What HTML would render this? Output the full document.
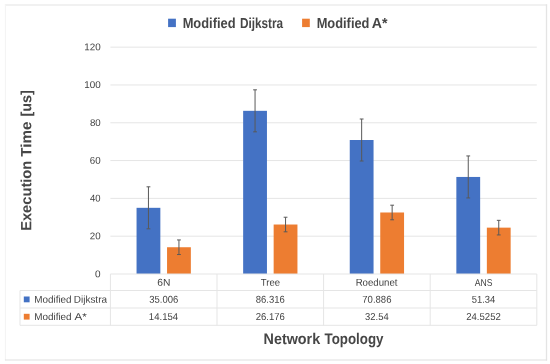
<!DOCTYPE html>
<html><head><meta charset="utf-8"><title>Chart</title>
<style>
html,body{margin:0;padding:0;background:#fff;}
body{width:550px;height:364px;overflow:hidden;}
svg{display:block;}
text{font-family:"Liberation Sans",sans-serif;text-rendering:geometricPrecision;}
.t{fill:#424242;}
.b{font-weight:bold;fill:#464646;}
</style></head><body>
<svg width="550" height="364" viewBox="0 0 550 364">
<rect x="0" y="0" width="550" height="364" fill="#fff"/>
<path d="M4.9 4.95H547.1" stroke="#EDEDED" stroke-width="1.4" fill="none"/>
<path d="M5.4 4.3V360.5" stroke="#F4F4F4" stroke-width="1.1" fill="none"/>
<path d="M546.5 4.3V360.5" stroke="#E4E4E4" stroke-width="1.3" fill="none"/>
<path d="M4.9 360.0H547.1" stroke="#E0E0E0" stroke-width="1.2" fill="none"/>

<line x1="110.4" x2="536.8" y1="236.19" y2="236.19" stroke="#E5E5E5" stroke-width="1"/>
<line x1="110.4" x2="536.8" y1="198.38" y2="198.38" stroke="#E5E5E5" stroke-width="1"/>
<line x1="110.4" x2="536.8" y1="160.57" y2="160.57" stroke="#E5E5E5" stroke-width="1"/>
<line x1="110.4" x2="536.8" y1="122.77" y2="122.77" stroke="#E5E5E5" stroke-width="1"/>
<line x1="110.4" x2="536.8" y1="84.96" y2="84.96" stroke="#E5E5E5" stroke-width="1"/>
<line x1="110.4" x2="536.8" y1="47.15" y2="47.15" stroke="#E5E5E5" stroke-width="1"/>
<text class="t" font-size="9.8" transform="translate(95.11 277.15) rotate(0.03)" textLength="5.57" lengthAdjust="spacingAndGlyphs">0</text>
<text class="t" font-size="9.8" transform="translate(89.81 239.34) rotate(0.03)" textLength="10.86" lengthAdjust="spacingAndGlyphs">20</text>
<text class="t" font-size="9.8" transform="translate(90.09 201.53) rotate(0.03)" textLength="10.57" lengthAdjust="spacingAndGlyphs">40</text>
<text class="t" font-size="9.8" transform="translate(89.81 163.72) rotate(0.03)" textLength="10.86" lengthAdjust="spacingAndGlyphs">60</text>
<text class="t" font-size="9.8" transform="translate(89.88 125.92) rotate(0.03)" textLength="10.79" lengthAdjust="spacingAndGlyphs">80</text>
<text class="t" font-size="9.8" transform="translate(84.25 88.11) rotate(0.03)" textLength="16.43" lengthAdjust="spacingAndGlyphs">100</text>
<text class="t" font-size="9.8" transform="translate(84.25 50.30) rotate(0.03)" textLength="16.43" lengthAdjust="spacingAndGlyphs">120</text>
<rect x="136.55" y="207.82" width="23.8" height="66.18" fill="#4472C4"/>
<rect x="167.05" y="247.24" width="23.8" height="26.76" fill="#ED7D31"/>
<path d="M148.45 186.82V228.82M146.55 186.82H150.35M146.55 228.82H150.35" stroke="#595959" stroke-width="1" fill="none"/>
<path d="M178.95 239.94V254.54M177.05 239.94H180.85M177.05 254.54H180.85" stroke="#595959" stroke-width="1" fill="none"/>
<rect x="243.15" y="110.83" width="23.8" height="163.17" fill="#4472C4"/>
<rect x="273.65" y="224.52" width="23.8" height="49.48" fill="#ED7D31"/>
<path d="M255.05 89.83V131.83M253.15 89.83H256.95M253.15 131.83H256.95" stroke="#595959" stroke-width="1" fill="none"/>
<path d="M285.55 217.22V231.82M283.65 217.22H287.45M283.65 231.82H287.45" stroke="#595959" stroke-width="1" fill="none"/>
<rect x="349.75" y="140.00" width="23.8" height="134.00" fill="#4472C4"/>
<rect x="380.25" y="212.49" width="23.8" height="61.51" fill="#ED7D31"/>
<path d="M361.65 119.00V161.00M359.75 119.00H363.55M359.75 161.00H363.55" stroke="#595959" stroke-width="1" fill="none"/>
<path d="M392.15 205.19V219.79M390.25 205.19H394.05M390.25 219.79H394.05" stroke="#595959" stroke-width="1" fill="none"/>
<rect x="456.35" y="176.95" width="23.8" height="97.05" fill="#4472C4"/>
<rect x="486.85" y="227.64" width="23.8" height="46.36" fill="#ED7D31"/>
<path d="M468.25 155.95V197.95M466.35 155.95H470.15M466.35 197.95H470.15" stroke="#595959" stroke-width="1" fill="none"/>
<path d="M498.75 220.34V234.94M496.85 220.34H500.65M496.85 234.94H500.65" stroke="#595959" stroke-width="1" fill="none"/>
<path d="M110.4 274.0H536.8M20.0 290.5H536.8M20.0 308.0H536.8M20.0 325.3H536.8" stroke="#E5E5E5" stroke-width="1" fill="none"/>
<path d="M110.40 274.0V325.3M217.00 274.0V325.3M323.60 274.0V325.3M430.20 274.0V325.3M536.80 274.0V325.3M20.0 290.5V325.3" stroke="#E5E5E5" stroke-width="1" fill="none"/>
<text class="t" font-size="10" transform="translate(157.29 285.80) rotate(0.03)" textLength="13.15" lengthAdjust="spacingAndGlyphs">6N</text>
<text class="t" font-size="10" transform="translate(149.21 302.70) rotate(0.03)" textLength="29.02" lengthAdjust="spacingAndGlyphs">35.006</text>
<text class="t" font-size="10" transform="translate(148.85 320.00) rotate(0.03)" textLength="29.26" lengthAdjust="spacingAndGlyphs">14.154</text>
<text class="t" font-size="10" transform="translate(260.79 285.80) rotate(0.03)" textLength="19.23" lengthAdjust="spacingAndGlyphs">Tree</text>
<text class="t" font-size="10" transform="translate(255.77 302.70) rotate(0.03)" textLength="29.07" lengthAdjust="spacingAndGlyphs">86.316</text>
<text class="t" font-size="10" transform="translate(255.70 320.00) rotate(0.03)" textLength="29.14" lengthAdjust="spacingAndGlyphs">26.176</text>
<text class="t" font-size="10" transform="translate(355.66 285.80) rotate(0.03)" textLength="41.76" lengthAdjust="spacingAndGlyphs">Roedunet</text>
<text class="t" font-size="10" transform="translate(362.29 302.70) rotate(0.03)" textLength="29.15" lengthAdjust="spacingAndGlyphs">70.886</text>
<text class="t" font-size="10" transform="translate(365.08 320.00) rotate(0.03)" textLength="23.55" lengthAdjust="spacingAndGlyphs">32.54</text>
<text class="t" font-size="10" transform="translate(474.83 285.80) rotate(0.03)" textLength="17.71" lengthAdjust="spacingAndGlyphs">ANS</text>
<text class="t" font-size="10" transform="translate(471.66 302.70) rotate(0.03)" textLength="23.57" lengthAdjust="spacingAndGlyphs">51.34</text>
<text class="t" font-size="10" transform="translate(466.23 320.00) rotate(0.03)" textLength="34.53" lengthAdjust="spacingAndGlyphs">24.5252</text>
<rect x="23.8" y="296.5" width="5.8" height="5.8" fill="#4472C4"/>
<rect x="23.8" y="313.8" width="5.8" height="5.8" fill="#ED7D31"/>
<text class="t" font-size="10" transform="translate(34.19 302.70) rotate(0.03)" textLength="37.44" lengthAdjust="spacingAndGlyphs">Modified</text>
<text class="t" font-size="10" transform="translate(73.78 302.70) rotate(0.03)" textLength="33.21" lengthAdjust="spacingAndGlyphs">Dijkstra</text>
<text class="t" font-size="10" transform="translate(34.19 320.00) rotate(0.03)" textLength="37.44" lengthAdjust="spacingAndGlyphs">Modified</text>
<text class="t" font-size="10" transform="translate(74.58 320.00) rotate(0.03)" textLength="12.20" lengthAdjust="spacingAndGlyphs">A*</text>
<rect x="168.1" y="18.7" width="7.8" height="8.4" fill="#4472C4"/>
<rect x="302.1" y="18.7" width="7.7" height="8.4" fill="#ED7D31"/>
<text class="b" font-size="14.4" transform="translate(182.65 27.90) rotate(0.03)" textLength="52.89" lengthAdjust="spacingAndGlyphs">Modified</text>
<text class="b" font-size="14.4" transform="translate(239.92 27.90) rotate(0.03)" textLength="43.20" lengthAdjust="spacingAndGlyphs">Dijkstra</text>
<text class="b" font-size="14.4" transform="translate(316.65 27.90) rotate(0.03)" textLength="52.79" lengthAdjust="spacingAndGlyphs">Modified</text>
<text class="b" font-size="14.4" transform="translate(371.66 27.90) rotate(0.03)" textLength="15.74" lengthAdjust="spacingAndGlyphs">A*</text>
<text class="b" font-size="15.4" transform="translate(263.55 343.55) rotate(0.03)" textLength="56.57" lengthAdjust="spacingAndGlyphs">Network</text>
<text class="b" font-size="15.4" transform="translate(324.55 343.55) rotate(0.03)" textLength="58.91" lengthAdjust="spacingAndGlyphs">Topology</text>
<g transform="translate(31.15 229.9) rotate(-90)">
<text class="b" font-size="14.8" transform="translate(-0.97 0.00) rotate(0.03)" textLength="70.18" lengthAdjust="spacingAndGlyphs">Execution</text>
<text class="b" font-size="14.8" transform="translate(73.23 0.00) rotate(0.03)" textLength="34.98" lengthAdjust="spacingAndGlyphs">Time</text>
<text class="b" font-size="14.8" transform="translate(113.29 0.00) rotate(0.03)" textLength="26.41" lengthAdjust="spacingAndGlyphs">[us]</text>
</g>
</svg></body></html>
